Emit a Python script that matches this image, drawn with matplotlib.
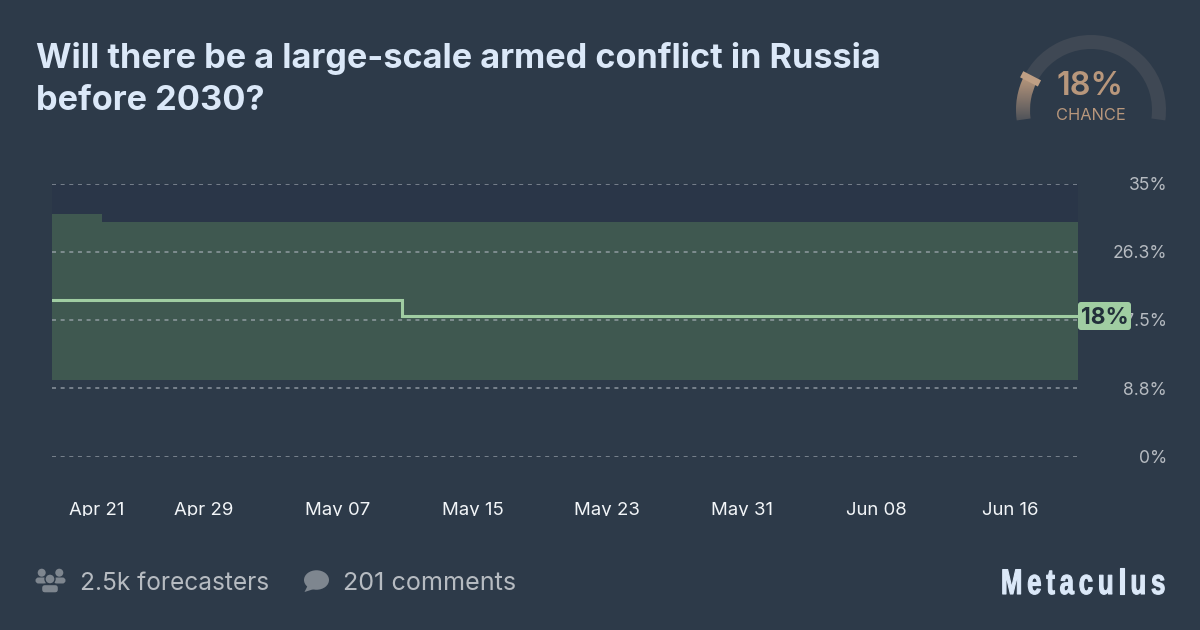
import datetime as dt
import numpy as np
import matplotlib
matplotlib.use('Agg')
import matplotlib.pyplot as plt
import matplotlib.dates as mdates
from matplotlib.patches import Wedge, FancyBboxPatch, Circle, Ellipse, Polygon
from matplotlib.patheffects import AbstractPathEffect
from matplotlib.colors import to_rgb
from matplotlib.transforms import Affine2D, Bbox

plt.rcParams['font.family'] = ['Inter', 'DejaVu Sans']

# forecast history
line_dates = [dt.datetime(2025, 4, 20), dt.datetime(2025, 5, 10, 20), dt.datetime(2025, 6, 20)]
line_values = [20.05, 18.0, 18.0]
band_dates = [dt.datetime(2025, 4, 20), dt.datetime(2025, 4, 23), dt.datetime(2025, 6, 20)]
band_upper = [31.1, 30.1, 30.1]
band_lower = [9.8, 9.8, 9.8]

y_ticks = [0, 8.75, 17.5, 26.25, 35]
y_labels = ['0%', '8.8%', '17.5%', '26.3%', '35%']
x_ticks = [dt.datetime(2025, 4, 21), dt.datetime(2025, 4, 29), dt.datetime(2025, 5, 7),
           dt.datetime(2025, 5, 15), dt.datetime(2025, 5, 23), dt.datetime(2025, 5, 31),
           dt.datetime(2025, 6, 8), dt.datetime(2025, 6, 16)]

title_lines = ['Will there be a large-scale armed conflict in Russia', 'before 2030?']
chance = 18
forecasters = '2.5k forecasters'
comments = '201 comments'

BG = '#2d3a49'
TITLE = '#dbe8f8'
GREEN = '#a0cda2'
TAN = '#b8977c'
GREY = '#b6bbc1'
W, H = 1200, 630


class Condense(AbstractPathEffect):
    # squeeze glyphs horizontally around a fixed display x, with a thin outline
    def __init__(self, x0, sx, color, stroke):
        super().__init__()
        self.x0 = x0
        self.sx = sx
        self.color = color
        self.stroke = stroke

    def draw_path(self, renderer, gc, tpath, affine, rgbFace=None):
        squeeze = Affine2D().translate(-self.x0, 0).scale(self.sx, 1).translate(self.x0, 0)
        gc.set_linewidth(self.stroke)
        gc.set_foreground(self.color)
        renderer.draw_path(gc, tpath, affine + squeeze, rgbFace)


fig = plt.figure(figsize=(12, 6.3), dpi=100, facecolor=BG)

# main chart, placed in pixels
L, R, T, B = 52, 1078, 183.5, 456.5
ax = fig.add_axes([L / W, 1 - B / H, (R - L) / W, (B - T) / H], facecolor=BG)
ax.set_xlim(line_dates[0], line_dates[-1])
ax.set_ylim(0, 35)
for s in ax.spines.values():
    s.set_visible(False)

# darker band above the confidence area
ax.axhspan(30.1, 35, color='#2a3648', lw=0, zorder=0)
ax.fill_between(band_dates, band_lower, band_upper, step='post', color='#3f5850', lw=0, zorder=1)
ax.step(line_dates, line_values, where='post', color=GREEN, lw=2.2, zorder=3, solid_joinstyle='miter')

ax.set_yticks(y_ticks, y_labels)
ax.yaxis.tick_right()
ax.tick_params(axis='y', length=0, pad=64.1, labelsize=12.6, labelcolor=GREY)
for lab in ax.get_yticklabels():
    lab.set_ha('right')
ax.set_axisbelow(False)
ax.grid(axis='y', color='#a9b1b9', alpha=0.6, lw=1.4, dashes=(2.05, 2.4), zorder=2)
ax.grid(axis='x', visible=False)

ax.set_xticks(x_ticks)
ax.xaxis.set_major_formatter(mdates.DateFormatter('%b %d'))
ax.tick_params(axis='x', length=0, pad=33, labelsize=13.4, labelcolor='#f2f5f8')
ax.get_xticklabels()[0].set_ha('left')

# overlay in pixel coordinates for gauge, badge and footer
ov = fig.add_axes([0, 0, 1, 1], facecolor='none')
ov.set_xlim(0, W)
ov.set_ylim(H, 0)
ov.axis('off')

for i, line in enumerate(title_lines):
    ov.text(35.5, 58.5 + i * 42.5, line, fontsize=24.66, fontweight='bold', color=TITLE, va='center', ha='left')

# value badge on the right edge of the chart
ov.add_patch(FancyBboxPatch((1080, 304), 49, 24, boxstyle='round,pad=2,rounding_size=3',
                            fc=GREEN, ec='none', zorder=5))
ov.text(1104.5, 317.5, f'{chance}%', fontsize=16.4, fontweight='bold', color='#22303a',
        ha='center', va='center', zorder=6)

# gauge: track, gradient part, needle
cx, cy, r_out, r_in = 1091, 110, 75, 61
a_start, a_end = 188, -8
a_val = a_start - (a_start - a_end) * chance / 100
# y axis of the overlay points down, so angles are mirrored
ov.add_patch(Wedge((cx, cy), r_out, -a_start, -a_end, width=r_out - r_in, fc='#3f4854', ec='none'))
grad = np.zeros((100, 1, 4))
grad[..., :3] = to_rgb(TAN)
grad[:, 0, 3] = np.linspace(1, 0.12, 100)
wedge = Wedge((cx, cy), r_out, -a_start, -a_val, width=r_out - r_in, fc='none', ec='none')
ov.add_patch(wedge)
im = ov.imshow(grad, extent=(1010, 1050, 121, 77), aspect='auto', zorder=2)
im.set_clip_path(wedge)
ov.set_xlim(0, W)
ov.set_ylim(H, 0)
rad = np.deg2rad(a_val)
ov.plot([cx + (r_in - 3) * np.cos(rad), cx + (r_out + 3) * np.cos(rad)],
        [cy - (r_in - 3) * np.sin(rad), cy - (r_out + 3) * np.sin(rad)],
        color='#bf9f84', lw=5, solid_capstyle='butt', zorder=3)
ov.text(1090, 86.5, f'{chance}%', fontsize=23.4, fontweight='semibold', color=TAN, ha='center', va='center')
ov.text(1091, 116, 'CHANCE', fontsize=11.8, color=TAN, ha='center', va='center')

# footer icons
ICON = '#7e868f'
ov.add_patch(Circle((41.7, 572.7), 4, fc=ICON, ec='none'))
ov.add_patch(Circle((59.3, 572.7), 4, fc=ICON, ec='none'))
ov.add_patch(FancyBboxPatch((37, 579), 9, 3, boxstyle='round,pad=1.5,rounding_size=3', fc=ICON, ec='none'))
ov.add_patch(FancyBboxPatch((55, 579), 9, 3, boxstyle='round,pad=1.5,rounding_size=3', fc=ICON, ec='none'))
ov.add_patch(Circle((50, 579), 5, fc=ICON, ec=BG, lw=1))
ov.add_patch(FancyBboxPatch((43, 586), 14, 5.5, boxstyle='round,pad=1.5,rounding_size=3.5', fc=ICON, ec=BG, lw=1))
ov.add_patch(Ellipse((316.5, 580), 25, 19.5, fc=ICON, ec='none'))
ov.add_patch(Polygon([(308, 585), (304.5, 592), (314, 589)], fc=ICON, ec='none'))

ov.text(80, 583, forecasters, fontsize=17.6, color=GREY, ha='left', va='center')
ov.text(343, 583, comments, fontsize=18.1, color=GREY, ha='left', va='center')

# wordmark, condensed and spaced letter by letter
x = 1001
fig.canvas.draw()
rend = fig.canvas.get_renderer()
squeeze = 0.72
for ch in 'Metaculus':
    t = ov.text(x, 594, ch, fontsize=25.6, fontweight='bold', color=TITLE, ha='left', va='baseline',
                family=['Liberation Sans', 'DejaVu Sans'])
    adv = t.get_window_extent(rend).width * squeeze
    t.set_path_effects([Condense(x, squeeze, TITLE, 0.8)])
    x += adv + 4.9

# date labels are cut off along the bottom of the card's chart
fig.canvas.draw()
clip = Bbox([[0, H - 515.5], [W, H]])
for lab in ax.get_xticklabels():
    lab.set_clip_box(clip)
    lab.set_clip_on(True)

fig.savefig('out.png', dpi=100, facecolor=BG)
